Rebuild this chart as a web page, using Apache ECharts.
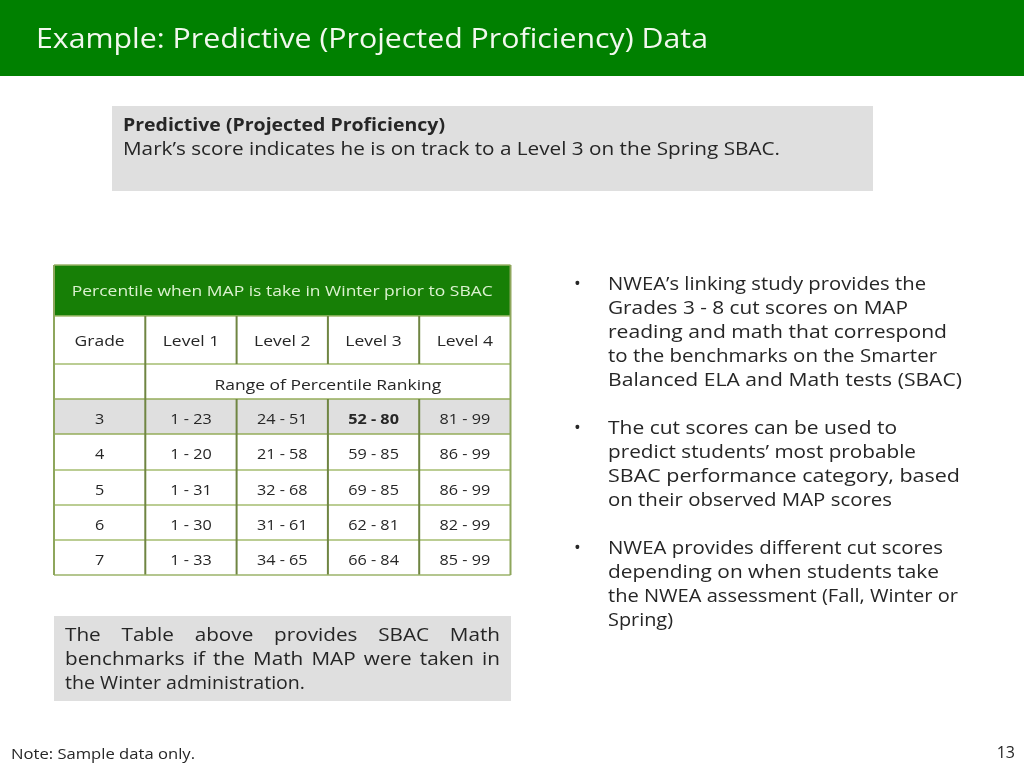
<!DOCTYPE html>
<html>
<head>
    <meta charset="utf-8">
    <style>
        html, body { width: 100%; height: 100%; margin: 0; background: #fff; }
        #chart-panel { width: 1024px; height: 768px; }
    </style>
    <script src="https://cdnjs.cloudflare.com/ajax/libs/echarts/6.0.0/echarts.min.js"></script>
</head>
<body>
<div id="chart-panel"></div>
<script type="text/javascript">
  // table contents
  const tableTitle = 'Percentile when MAP is take in Winter prior to SBAC'
  const headerLabels = ['Grade', 'Level 1', 'Level 2', 'Level 3', 'Level 4']
  const rangeLabel = 'Range of Percentile Ranking'
  const grades = ['3', '4', '5', '6', '7']
  const level1 = ['1 - 23', '1 - 20', '1 - 31', '1 - 30', '1 - 33']
  const level2 = ['24 - 51', '21 - 58', '32 - 68', '31 - 61', '34 - 65']
  const level3 = ['52 - 80', '59 - 85', '69 - 85', '62 - 81', '66 - 84']
  const level4 = ['81 - 99', '86 - 99', '86 - 99', '82 - 99', '85 - 99']

  // slide text
  const slideTitle = 'Example: Predictive (Projected Proficiency) Data'
  const boxHeading = 'Predictive (Projected Proficiency)'
  const boxLine = 'Mark\u2019s score indicates he is on track to a Level 3 on the Spring SBAC.'
  const bullets = [
    ['NWEA\u2019s linking study provides the', 'Grades 3 - 8 cut scores on MAP', 'reading and math that correspond',
      'to the benchmarks on the Smarter', 'Balanced ELA and Math tests (SBAC)'],
    ['The cut scores can be used to', 'predict students\u2019 most probable', 'SBAC performance category, based',
      'on their observed MAP scores'],
    ['NWEA provides different cut scores', 'depending on when students take', 'the NWEA assessment (Fall, Winter or', 'Spring)']
  ]
  const noteLines = ['The Table above provides SBAC Math', 'benchmarks if the Math MAP were taken in', 'the Winter administration.']
  const footNote = 'Note: Sample data only.'
  const pageNumber = '13'

  // measured width of each bullet line in the reference
  const bulletWidths = [318, 300, 339, 329, 354, 289, 308, 352, 284, 335, 331, 350, 65]

  const FONT = '"Open Sans", Lato, sans-serif'
  const INK = '#262626'
  const GREEN = '#008000'
  const GREY = '#dfdfdf'

  // row offsets on the table's y axis, top of the table = 0
  const rowEdges = [0, 51, 99, 134, 169, 205, 240, 275, 310]
  // how far the text sits below the middle of each row
  const rowTextShift = [1, 2, 4, 3, 3, 3, 3, 3]

  const measureCtx = document.createElement('canvas').getContext('2d')
  function textWidth(text, font) {
    measureCtx.font = font
    return measureCtx.measureText(text).width
  }
  function fit(text, font, width) {
    return width / textWidth(text, font)
  }

  // the reference face is wider than the installed ones, text gets stretched to its measured widths
  const TITLE_FONT = '27px ' + FONT
  const BODY_FONT = '18px ' + FONT
  const CELL_FONT = '15px ' + FONT
  const NOTE_FONT = '15px ' + FONT
  const bodyStretch = fit(boxLine, BODY_FONT, 657)
  const headStretch = fit(tableTitle, CELL_FONT, 421)

  // cells: [first col, end col, row, text, fill, colour, bold]
  let cells = []
  cells.push([0, 5, 0, tableTitle, '#177f06', '#dcf2d0', false])
  headerLabels.forEach((t, i) => cells.push([i, i + 1, 1, t, '#fff', INK, false]))
  cells.push([0, 1, 2, '', '#fff', INK, false])
  cells.push([1, 5, 2, rangeLabel, '#fff', INK, false])
  grades.forEach((g, r) => {
    let row = [g, level1[r], level2[r], level3[r], level4[r]]
    row.forEach((t, c) => cells.push([c, c + 1, r + 3, t, r === 0 ? GREY : '#fff', INK, r === 0 && c === 3]))
  })

  // rules: [x0, row0, x1, row1, colour, width]
  let rules = []
  for (let r = 1; r < rowEdges.length - 1; r++) {
    rules.push([0, r, 5, r, r === 3 || r === 4 ? '#94ad5a' : '#a5bc6f', 1.6])
  }
  rules.push([1, 1, 1, 8, '#6f8542', 2])
  ;[2, 3, 4].forEach((x) => {
    rules.push([x, 1, x, 2, '#6f8542', 2])
    rules.push([x, 3, x, 8, '#6f8542', 2])
  })
  rules.push([0, 0, 5, 0, '#9bb36a', 1.6], [0, 8, 5, 8, '#9bb36a', 1.6])
  rules.push([0, 0, 0, 8, '#8ea65c', 2], [5, 0, 5, 8, '#8ea65c', 2])

  function renderCell(params, api) {
    let c = cells[params.dataIndex]
    let p0 = api.coord([c[0], rowEdges[c[2]]])
    let p1 = api.coord([c[1], rowEdges[c[2] + 1]])
    return {
      type: 'group',
      children: [
        { type: 'rect', shape: { x: p0[0], y: p0[1], width: p1[0] - p0[0], height: p1[1] - p0[1] }, style: { fill: c[4] } },
        { type: 'text',
          x: (p0[0] + p1[0]) / 2,
          y: (p0[1] + p1[1]) / 2 + rowTextShift[c[2]],
          scaleX: c[2] < 3 ? headStretch : 1.08,
          style: { text: c[3], fill: c[5], align: 'center', verticalAlign: 'middle', font: (c[6] ? 'bold ' : '') + CELL_FONT } }
      ]
    }
  }

  function renderRule(params, api) {
    let r = rules[params.dataIndex]
    let p0 = api.coord([r[0], rowEdges[r[1]]])
    let p1 = api.coord([r[2], rowEdges[r[3]]])
    return { type: 'line', shape: { x1: p0[0], y1: p0[1], x2: p1[0], y2: p1[1] }, style: { stroke: r[4], lineWidth: r[5] } }
  }

  function label(x, y, text, font, fill, stretch, extra) {
    return { type: 'text', x: x, y: y, scaleX: stretch || 1, silent: true, style: Object.assign({
      text: text, fill: fill || INK, font: font, verticalAlign: 'middle'
    }, extra || {}) }
  }

  function box(x, y, w, h, fill) {
    return { type: 'rect', shape: { x: x, y: y, width: w, height: h }, style: { fill: fill }, silent: true }
  }

  // justified line: one text per word, gaps stretched to fill the width
  function justified(text, x, y, width) {
    let words = text.split(' ')
    let used = words.reduce((a, w) => a + textWidth(w, BODY_FONT) * bodyStretch, 0)
    let gap = (width - used) / (words.length - 1)
    let cursor = x
    return words.map((w) => {
      let el = label(cursor, y, w, BODY_FONT, INK, bodyStretch)
      cursor += textWidth(w, BODY_FONT) * bodyStretch + gap
      return el
    })
  }

  let slide = [
    box(0, 0, 1024, 76, GREEN),
    label(36, 40.5, slideTitle, TITLE_FONT, '#f2f8ee', fit(slideTitle, TITLE_FONT, 672)),
    box(112, 106, 761, 85, GREY),
    label(123, 125.5, boxHeading, 'bold ' + BODY_FONT, INK, fit(boxHeading, 'bold ' + BODY_FONT, 322)),
    label(123, 149.5, boxLine, BODY_FONT, INK, bodyStretch),
    box(54, 616, 457, 85, GREY),
    label(11, 755, footNote, NOTE_FONT, INK, fit(footNote, NOTE_FONT, 184)),
    label(1015, 753, pageNumber, '16px ' + FONT, INK, 1, { align: 'right' })
  ]
  slide = slide.concat(justified(noteLines[0], 65, 635.5, 435), justified(noteLines[1], 65, 659.5, 435))
  slide.push(label(65, 683.5, noteLines[2], BODY_FONT, INK, fit(noteLines[2], BODY_FONT, 240)))

  let lineY = 284.5
  let lineIdx = 0
  bullets.forEach((para) => {
    slide.push(label(574, lineY, '\u2022', BODY_FONT))
    para.forEach((line) => {
      slide.push(label(608, lineY, line, BODY_FONT, INK, fit(line, BODY_FONT, bulletWidths[lineIdx])))
      lineIdx++
      lineY += 24
    })
    lineY += 24
  })

  let myChart = echarts.init(document.getElementById('chart-panel'))
  let option = {
    animation: false,
    backgroundColor: '#fff',
    graphic: { elements: slide },
    grid: { left: 54, top: 265, width: 456.5, height: 310 },
    xAxis: { type: 'value', min: 0, max: 5, show: false },
    yAxis: { type: 'value', min: 0, max: 310, inverse: true, show: false },
    series: [
      { type: 'custom', silent: true, clip: false, renderItem: renderCell, data: cells.map((c) => [c[0], c[2]]), z: 2 },
      { type: 'custom', silent: true, clip: false, renderItem: renderRule, data: rules.map((r) => [r[0], r[1]]), z: 3 }
    ]
  }
  myChart.setOption(option)
</script>
</body>
</html>
